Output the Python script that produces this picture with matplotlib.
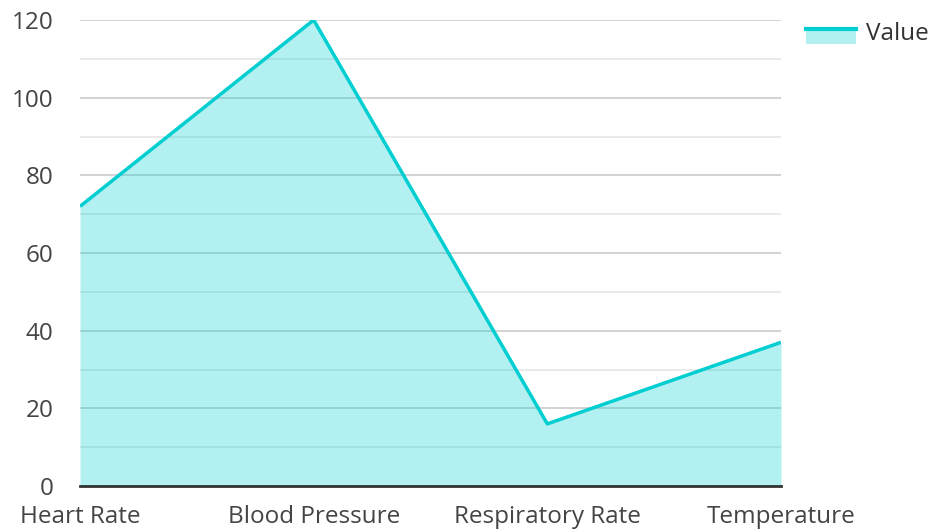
import matplotlib.pyplot as plt
from matplotlib.patches import Patch, Rectangle
from matplotlib.lines import Line2D
from matplotlib.legend_handler import HandlerBase

plt.rcParams['font.family'] = ['Open Sans', 'DejaVu Sans']

categories = ["Heart Rate", "Blood Pressure", "Respiratory Rate", "Temperature"]
values = [72, 120, 16, 37]
y_ticks = [0, 20, 40, 60, 80, 100, 120]

line_color = "#00CED1"


class AreaHandler(HandlerBase):
    # patch hanging under the line, like the reference legend
    def create_artists(self, legend, orig, xd, yd, width, height, fontsize, trans):
        mid = yd + height * 0.55
        rect = Rectangle((xd, mid - height * 0.8), width, height * 0.8,
                         facecolor=line_color, alpha=0.3, edgecolor="none", transform=trans)
        ln = Line2D([xd, xd + width], [mid, mid], color=line_color, linewidth=3, transform=trans)
        return [rect, ln]


fig = plt.figure(figsize=(9.31, 5.31), dpi=100)
ax = fig.add_axes([80 / 931, 1 - 486 / 531, 701 / 931, 466 / 531])

x = list(range(len(categories)))
ax.fill_between(x, values, 0, color=line_color, alpha=0.3, linewidth=0, zorder=2)
ax.plot(x, values, color=line_color, linewidth=2.5, zorder=3, solid_capstyle="butt")

ax.set_xlim(0, len(categories) - 1)
ax.set_ylim(0, 120)
ax.set_yticks(y_ticks)
ax.set_yticks(range(10, 120, 20), minor=True)
ax.set_xticks(x)
ax.set_xticklabels(categories)
ax.grid(True, which="major", axis="y", color="#cccccc", linewidth=1.2, zorder=1)
ax.grid(True, which="minor", axis="y", color="#e6e6e6", linewidth=1.2, zorder=1)
ax.set_axisbelow(True)

for side in ["left", "right", "top"]:
    ax.spines[side].set_visible(False)
ax.spines["bottom"].set_color("#333333")
ax.spines["bottom"].set_linewidth(2)
ax.spines["bottom"].set_zorder(4)

ax.tick_params(axis="both", which="both", length=0, labelsize=17.5, labelcolor="#444444")
ax.tick_params(axis="y", pad=19)
ax.tick_params(axis="x", pad=14)

fig.legend([Patch()], ["Value"], handler_map={Patch: AreaHandler()},
           loc="upper right", bbox_to_anchor=(1.0, 1 - 20 / 531),
           frameon=False, fontsize=17.5, labelcolor="#333333", handlelength=2.05,
           handleheight=0.8, handletextpad=0.4, borderpad=0.1, borderaxespad=0.0)

fig.savefig("out.png", dpi=100)
